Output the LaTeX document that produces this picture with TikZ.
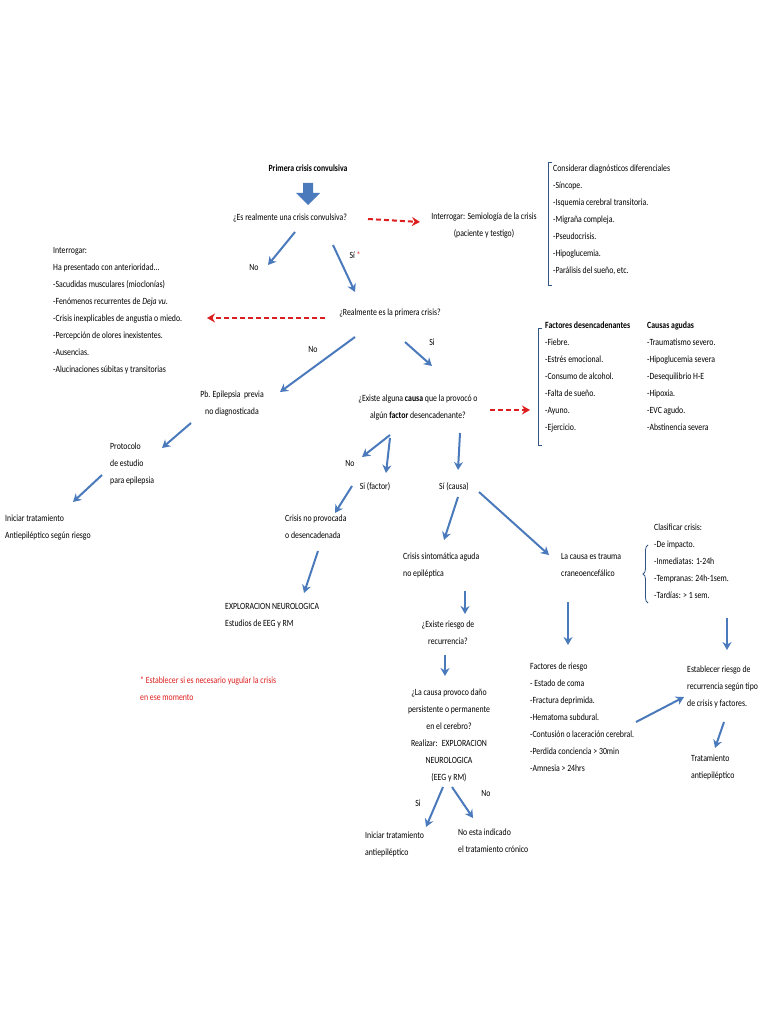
\documentclass[tikz,border=0pt]{standalone}
\usepackage{fontspec}
\setmainfont{Carlito}[FakeStretch=0.82]
\usetikzlibrary{arrows.meta,calc,decorations.pathreplacing}
\definecolor{ab}{RGB}{74,122,188}
\definecolor{rd}{RGB}{220,30,30}
\begin{document}
\begin{tikzpicture}[x=1pt,y=-1pt,
 t/.style={font=\fontsize{9.5}{17}\selectfont,inner sep=0pt,align=left,anchor=north west},
 tc/.style={font=\fontsize{9.5}{17}\selectfont,inner sep=0pt,align=center},
 ba/.style={draw=ab,line width=2pt,-{Stealth[length=8pt,width=9pt]}},
 ra/.style={draw=rd,line width=2pt,dash pattern=on 5pt off 3pt,-{Stealth[length=8pt,width=9pt]}},
 br/.style={draw=ab!70!black,line width=0.8pt}]
\useasboundingbox (0,0) rectangle (768,1024);
\fill[white] (0,0) rectangle (768,1024);
% top
\node[tc,font=\bfseries\fontsize{9.5}{17}\selectfont] (p1) at (308,168) {Primera crisis convulsiva};
\fill[ab] (303,183) -- (313,183) -- (313,193) -- (320,193) -- (308,205) -- (296,193) -- (303,193) -- cycle;
\node[tc] (q1) at (290,218) {¿Es realmente una crisis convulsiva?};
\node[tc] (sem) at (484,226) {Interrogar: Semiología de la crisis\\(paciente y testigo)};
\draw[ra] (368,219) -- (420,222);
\draw[br] (552,162) -- (548,162) -- (548,285) -- (552,285);
\node[t] (dd) at (553,165) {Considerar diagnósticos diferenciales\\-Síncope.\\-Isquemia cerebral transitoria.\\-Migraña compleja.\\-Pseudocrisis.\\-Hipoglucemia.\\-Parálisis del sueño, etc.};
\node[tc] (no1) at (254,267) {No};
\node[tc] (si1) at (355,255) {Sí \textcolor{rd}{*}};
\draw[ba] (295,232) -- (268,265);
\draw[ba] (333,245) -- (355,292);
\node[tc] (q2) at (390,313) {¿Realmente es la primera crisis?};
\draw[ra] (325,318) -- (207,318);
\node[t] (int) at (53,247) {Interrogar:\\Ha presentado con anterioridad...\\-Sacudidas musculares (mioclonías)\\-Fenómenos recurrentes de \emph{Deja vu}.\\-Crisis inexplicables de angustia o miedo.\\-Percepción de olores inexistentes.\\-Ausencias.\\-Alucinaciones súbitas y transitorias};
\node[tc] (no2) at (313,349) {No};
\node[tc] (si2) at (432,342) {Si};
\draw[ba] (355,337) -- (280,392);
\draw[ba] (405,342) -- (432,366);
\node[tc] (pb) at (232,404) {Pb. Epilepsia \ previa\\no diagnosticada};
\node[tc] (q3) at (418,408) {¿Existe alguna \textbf{causa} que la provocó o\\algún \textbf{factor} desencadenante?};
\draw[ra] (490,410) -- (530,410);
\draw[br] (542,328) -- (538,328) -- (538,445) -- (542,445);
\node[t] (fd) at (545,322) {\textbf{Factores desencadenantes}\\-Fiebre.\\-Estrés emocional.\\-Consumo de alcohol.\\-Falta de sueño.\\-Ayuno.\\-Ejercicio.};
\node[t] (ca) at (647,322) {\textbf{Causas agudas}\\-Traumatismo severo.\\-Hipoglucemia severa\\-Desequilibrio H-E\\-Hipoxia.\\-EVC agudo.\\-Abstinencia severa};
\draw[ba] (191,423) -- (162,448);
\node[t] (pr) at (110,443) {Protocolo\\de estudio\\para epilepsia};
\draw[ba] (102,475) -- (73,502);
\node[t] (it1) at (5,515) {Iniciar tratamiento\\Antiepiléptico según riesgo};
\node[tc] (no3) at (350,463) {No};
\node[tc] (sf) at (375,487) {Si (factor)};
\node[tc] (sc) at (454,487) {Sí (causa)};
\draw[ba] (390,435) -- (362,457);
\draw[ba] (390,438) -- (386,473);
\draw[ba] (460,433) -- (458,470);
\draw[ba] (352,486) -- (335,513);
\node[t] (cnp) at (285,515) {Crisis no provocada\\o desencadenada};
\draw[ba] (318,551) -- (304,593);
\node[t] (exp) at (225,603) {EXPLORACION NEUROLOGICA\\Estudios de EEG y RM};
\draw[ba] (458,497) -- (444,540);
\draw[ba] (479,492) -- (549,555);
\node[t] (csa) at (403,553) {Crisis sintomática aguda\\no epiléptica};
\node[t] (tce) at (561,553) {La causa es trauma\\craneoencefálico};
\node[t] (cl) at (654,524) {Clasificar crisis:\\-De impacto.\\-Inmediatas: 1-24h\\-Tempranas: 24h-1sem.\\-Tardías: > 1 sem.};
\draw[br,decorate,decoration={brace,amplitude=5pt,mirror}] (648,545) -- (648,603);
\draw[ba] (465,591) -- (465,614);
\node[tc] (rr) at (448,633) {¿Existe riesgo de\\recurrencia?};
\draw[ba] (445,655) -- (445,676);
\node[tc] (lc) at (449,735) {¿La causa provoco daño\\persistente o permanente\\en el cerebro?\\Realizar: \ EXPLORACION\\NEUROLOGICA\\(EEG y RM)};
\node[tc] (si4) at (418,803) {Si};
\node[tc] (no4) at (486,793) {No};
\draw[ba] (443,787) -- (426,827);
\draw[ba] (452,787) -- (473,818);
\node[t] (it2) at (365,832) {Iniciar tratamiento\\antiepiléptico};
\node[t] (ni) at (458,829) {No esta indicado\\el tratamiento crónico};
\draw[ba] (568,602) -- (568,645);
\node[t] (fr) at (530,663) {Factores de riesgo\\- Estado de coma\\-Fractura deprimida.\\-Hematoma subdural.\\-Contusión o laceración cerebral.\\-Perdida conciencia > 30min\\-Amnesia > 24hrs};
\draw[ba] (727,618) -- (727,650);
\node[t] (er) at (687,666) {Establecer riesgo de\\recurrencia según tipo\\de crisis y factores.};
\draw[ba] (636,722) -- (684,697);
\draw[ba] (724,722) -- (715,748);
\node[t] (ta) at (691,755) {Tratamiento\\antiepiléptico};
\node[t,text=rd] (nota) at (140,677) {* Establecer si es necesario yugular la crisis\\en ese momento};
\end{tikzpicture}
\end{document}
